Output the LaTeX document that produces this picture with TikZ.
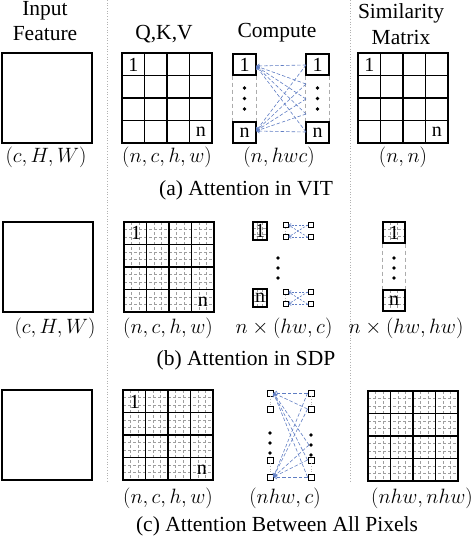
\documentclass[tikz,border=0pt]{standalone}
\usepackage{fontspec}
\setmainfont{Liberation Serif}
\usetikzlibrary{arrows.meta}
\definecolor{arrblue}{RGB}{95,125,195}
\newcommand\drawgrid[4]{% x0, y0, size, subdivided (1/0)
  \ifnum#4=1
    \foreach \k in {0,1,2,3}{\foreach \m in {1,2}{
      \draw[subdash] ({#1+(\k+\m/3)*#3/4},#2) -- ({#1+(\k+\m/3)*#3/4},{#2+#3});
      \draw[subdash] (#1,{#2+(\k+\m/3)*#3/4}) -- ({#1+#3},{#2+(\k+\m/3)*#3/4});
    }}
  \fi
  \draw[gridline] (#1,#2) rectangle ({#1+#3},{#2+#3});
  \foreach \i in {1,2,3}{
    \draw[gridline] ({#1+\i*#3/4},#2) -- ({#1+\i*#3/4},{#2+#3});
    \draw[gridline] (#1,{#2+\i*#3/4}) -- ({#1+#3},{#2+\i*#3/4});
  }}
\begin{document}
\begin{tikzpicture}[x=1pt,y=-1pt,
  txt/.style={font=\fontsize{21.5}{26}\selectfont, inner sep=0pt, anchor=base},
  num/.style={font=\fontsize{20}{20}\selectfont, inner sep=0pt},
  gridline/.style={line width=1.5pt, black},
  frame/.style={line width=1.2pt, black},
  subdash/.style={gray!75, dash pattern=on 3pt off 2pt, line width=0.5pt},
  sep/.style={gray!60, dotted, line width=0.7pt},
  greydash/.style={gray!65, dash pattern=on 4pt off 3pt, line width=0.7pt},
  barr/.style={arrblue, dash pattern=on 3.5pt off 2pt, line width=0.6pt, -{Straight Barb[length=3pt,width=4pt]}},
  sbarr/.style={arrblue, dash pattern=on 2pt off 1.5pt, line width=0.6pt, -{Straight Barb[length=2.2pt,width=3pt]}},
  sq/.style={draw, line width=0.9pt, minimum size=5pt, inner sep=0pt},
  cbox/.style={draw, line width=1.2pt, inner sep=0pt, font=\fontsize{20}{20}\selectfont},
  dotn/.style={circle, fill=black, inner sep=0pt, minimum size=3.6pt},
  minisep/.style={gray!60, dotted, line width=0.6pt}]
\useasboundingbox (0,0) rectangle (474,540);

% separators
\draw[sep] (107,0) -- (107,483);
\draw[sep] (350,0) -- (350,483);

% ---------------- row (a) ----------------
\node[txt] (tInput) at (45,16) {Input};
\node[txt] (tFeature) at (45,41) {Feature};
\node[txt] (tQKV) at (164,40) {Q,K,V};
\node[txt] (tCompute) at (277,38) {Compute};
\node[txt] (tSim) at (401,19) {Similarity};
\node[txt] (tMat) at (401,45) {Matrix};

\draw[frame] (2,53) rectangle (92,143);
\drawgrid{122}{53}{90}{0}
\node[num] (a1) at (133.25,64.5) {1};
\node[num] (an) at (200.75,131.5) {n};
\drawgrid{358}{53}{90}{0}
\node[num] (s1) at (369.25,64.5) {1};
\node[num] (sn) at (436.75,131.5) {n};

% compute (a)
\node[cbox, minimum width=23pt, minimum height=21pt] (L1) at (244.5,64.5) {1};
\node[cbox, minimum width=23pt, minimum height=21pt] (Ln) at (244.5,132.5) {n};
\node[cbox, minimum width=23pt, minimum height=21pt] (R1) at (317.5,64.5) {1};
\node[cbox, minimum width=23pt, minimum height=21pt] (Rn) at (317.5,132.5) {n};
\draw[greydash] (L1.south west) -- (Ln.north west);
\draw[greydash] (L1.south east) -- (Ln.north east);
\draw[greydash] (R1.south west) -- (Rn.north west);
\draw[greydash] (R1.south east) -- (Rn.north east);
\foreach \y [count=\c] in {88,98.5,109}{
  \node[dotn] (Ld\c) at (244.5,\y) {};
  \node[dotn] (Rd\c) at (317.5,\y) {};
}
\coordinate (pL1) at (256,66);
\coordinate (pLn) at (256,131);
\foreach \y [count=\c] in {65,84,99,114,132}{
  \coordinate (pR\c) at (306,\y);
  \draw[barr] (pR\c) -- (pL1);
  \draw[barr] (pR\c) -- (pLn);
}

\node[txt] (la1) at (46,162) {$(c,H,W)$};
\node[txt] (la2) at (167,162) {$(n,c,h,w)$};
\node[txt] (la3) at (279,162) {$(n,hwc)$};
\node[txt] (la4) at (403,162) {$(n,n)$};
\node[txt] (capa) at (246,195) {(a) Attention in VIT};

% ---------------- row (b) ----------------
\draw[frame] (3,222) rectangle (93,312);
\drawgrid{124}{222}{90}{1}
\node[num] (b1) at (136,233) {1};
\node[num] (bn) at (202.75,302) {n};

% compute (b)
\foreach \yc/\nm/\lab in {231/T/1, 298/B/n}{
  \draw[subdash] (257.67,\yc-9) -- ++(0,18);
  \draw[subdash] (262.33,\yc-9) -- ++(0,18);
  \draw[subdash] (253,\yc-3) -- ++(14,0);
  \draw[subdash] (253,\yc+3) -- ++(14,0);
  \node[cbox, minimum width=14pt, minimum height=18pt] (cb\nm) at (260,\yc) {\lab};
  \node[sq] (m\nm lt) at (285.5,\yc-6) {};
  \node[sq] (m\nm lb) at (285.5,\yc+6) {};
  \node[sq] (m\nm rt) at (310.5,\yc-6) {};
  \node[sq] (m\nm rb) at (310.5,\yc+6) {};
  \draw[minisep] (m\nm lt.south) -- (m\nm lb.north);
  \draw[sbarr] (m\nm rt.west) -- (m\nm lt.east);
  \draw[sbarr] (m\nm rt.west) -- (m\nm lb.east);
  \draw[sbarr] (m\nm rb.west) -- (m\nm lt.east);
  \draw[sbarr] (m\nm rb.west) -- (m\nm lb.east);
}
\foreach \y [count=\c] in {258,268,278}{
  \node[dotn] (bd\c) at (278,\y) {};
}

% similarity (b)
\foreach \yc/\nm/\lab in {232.5/T/1, 300.5/B/n}{
  \draw[subdash] (390.33,\yc-10.5) -- ++(0,21);
  \draw[subdash] (397.67,\yc-10.5) -- ++(0,21);
  \draw[subdash] (383,\yc-3.5) -- ++(22,0);
  \draw[subdash] (383,\yc+3.5) -- ++(22,0);
  \node[cbox, minimum width=22pt, minimum height=21pt] (sb\nm) at (394,\yc) {\lab};
}
\draw[greydash] (sbT.south west) -- (sbB.north west);
\draw[greydash] (sbT.south east) -- (sbB.north east);
\foreach \y [count=\c] in {258,268,278}{
  \node[dotn] (sd\c) at (394,\y) {};
}

\node[txt] (lb1) at (55,333) {$(c,H,W)$};
\node[txt] (lb2) at (168,333) {$(n,c,h,w)$};
\node[txt] (lb3) at (284,333) {$n\times(hw,c)$};
\node[txt] (lb4) at (406,333) {$n\times(hw,hw)$};
\node[txt] (capb) at (246,365) {(b) Attention in SDP};

% ---------------- row (c) ----------------
\draw[frame] (2,390) rectangle (92,480);
\drawgrid{123}{390}{90}{1}
\node[num] (c1) at (134.5,402) {1};
\node[num] (cn) at (201.75,470) {n};
\drawgrid{368}{391}{90}{1}

% compute (c)
\foreach \y [count=\c] in {393,409,460,477}{
  \node[sq, minimum size=6pt] (cl\c) at (270,\y) {};
  \node[sq, minimum size=6pt] (cr\c) at (311,\y) {};
}
\draw[minisep] (cl1.south) -- (cl2.north);
\draw[minisep] (cl3.south) -- (cl4.north);
\draw[minisep] (cr1.south) -- (cr2.north);
\draw[minisep] (cr3.south) -- (cr4.north);
\foreach \y [count=\c] in {433,443,453}{
  \node[dotn] (cld\c) at (270,\y) {};
}
\foreach \y [count=\c] in {435,445,455}{
  \node[dotn] (crd\c) at (311,\y) {};
}
\foreach \t in {cr1.west, cr2.west, crd2.west, cr3.west, cr4.west}{
  \draw[barr] (\t) -- (cl1.east);
  \draw[barr] (\t) -- (cl4.east);
}

\node[txt] (lc2) at (168,503) {$(n,c,h,w)$};
\node[txt] (lc3) at (285,503) {$(nhw,c)$};
\node[txt] (lc4) at (422,503) {$(nhw,nhw)$};
\node[txt] (capc) at (277,531) {(c) Attention Between All Pixels};
\end{tikzpicture}
\end{document}
